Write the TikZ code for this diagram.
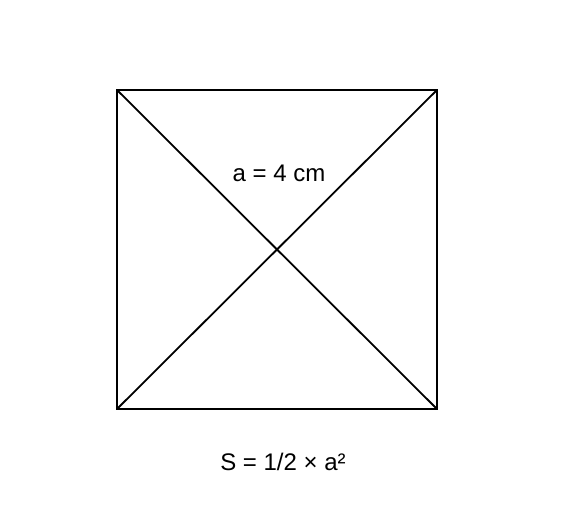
\documentclass[tikz,border=0pt]{standalone}
\usepackage{fontspec}
\setmainfont{Liberation Sans}

\begin{document}
\begin{tikzpicture}[x=1pt,y=1pt,line width=1.8pt]
   \useasboundingbox (0,0) rectangle (566,532);
   \coordinate (A) at (117,442);
   \coordinate (B) at (437,442);
   \coordinate (C) at (437,123);
   \coordinate (D) at (117,123);
   \draw (A) -- (B) -- (C) -- (D) -- cycle;
   \draw (A) -- (C);
   \draw (B) -- (D);
   \node[font=\fontsize{24}{28}\selectfont] (side) at (279,359) {a = 4 cm};
   \node[font=\fontsize{24}{28}\selectfont] (area) at (283,70) {S = 1/2 × a²};
\end{tikzpicture}
\end{document}
